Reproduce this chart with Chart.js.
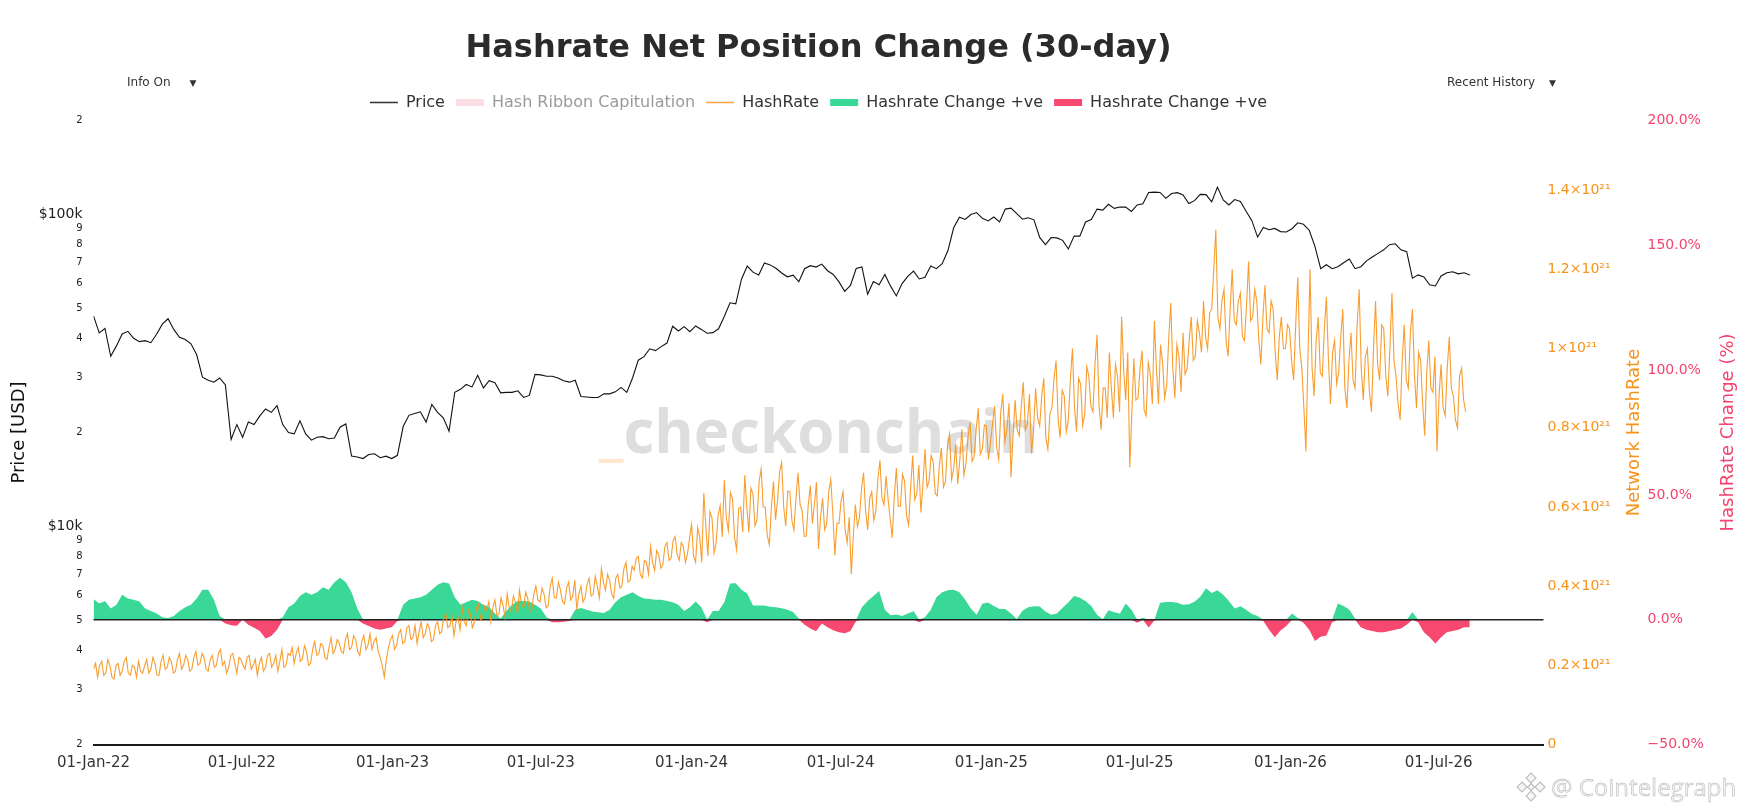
<!DOCTYPE html>
<html>
<head>
<meta charset="utf-8">
<title>Hashrate Net Position Change (30-day)</title>
<script src="https://cdn.jsdelivr.net/npm/chart.js@4.4.1/dist/chart.umd.min.js"></script>
<style>
  html, body { margin: 0; padding: 0; background: #fff; }
  #wrap { position: relative; width: 1745px; height: 812px; overflow: hidden; }
  #box { position: absolute; left: 0; top: 0; width: 1745px; height: 812px; }
  .menu { position: absolute; font-family: "DejaVu Sans", Verdana, sans-serif; font-size: 12px; color: #333; white-space: nowrap; }
  .menu .arrow { font-size: 9px; }
  #ct { position: absolute; left: 1515px; top: 770px; display: flex; align-items: center; white-space: nowrap; }
  #ct span { font-family: "Open Sans", sans-serif; font-size: 24px; color: #f2f2f2; -webkit-text-stroke: 0.45px #b0b0b0; margin-left: 4px; }
</style>
</head>
<body>
<div id="wrap">
  <div id="box"><canvas id="hashChart"></canvas></div>
  <div class="menu" style="left:127px; top:75px;">Info On<span class="arrow" style="margin-left:19px;">▼</span></div>
  <div class="menu" style="left:1447px; top:75px;">Recent History<span class="arrow" style="margin-left:14px;">▼</span></div>
  <div id="ct">
    <svg width="32" height="32" viewBox="0 0 32 32">
      <g fill="#f5f5f5" stroke="#bcbcbc" stroke-width="1.1">
        <polygon points="16,2 21,7 16,12 11,7"/>
        <polygon points="7,11 12,16 7,21 2,16"/>
        <polygon points="25,11 30,16 25,21 20,16"/>
        <polygon points="16,20 21,25 16,30 11,25"/>
        <polygon points="16,12.5 19.5,16 16,19.5 12.5,16"/>
      </g>
    </svg>
    <span>@ Cointelegraph</span>
  </div>
</div>
<script>
const FONT = '"DejaVu Sans", Verdana, sans-serif';

const startDate = "2022-01-01";
const axisEndDate = "2026-11-06";
const priceStepDays = 7;
const hashStepDays = 2.5;
const changeStepDays = 7;

const xTickDates = ["2022-01-01", "2022-07-01", "2023-01-01", "2023-07-01", "2024-01-01",
  "2024-07-01", "2025-01-01", "2025-07-01", "2026-01-01", "2026-07-01"];
const xTickLabels = ["01-Jan-22", "01-Jul-22", "01-Jan-23", "01-Jul-23", "01-Jan-24",
  "01-Jul-24", "01-Jan-25", "01-Jul-25", "01-Jan-26", "01-Jul-26"];

const priceTicks = [2000, 3000, 4000, 5000, 6000, 7000, 8000, 9000, 10000,
  20000, 30000, 40000, 50000, 60000, 70000, 80000, 90000, 100000, 200000];
const priceTickLabels = ["2", "3", "4", "5", "6", "7", "8", "9", "$10k",
  "2", "3", "4", "5", "6", "7", "8", "9", "$100k", "2"];
const hashTicks = [0, 0.2, 0.4, 0.6, 0.8, 1, 1.2, 1.4];
const hashTickLabels = ["0", "0.2×10²¹", "0.4×10²¹", "0.6×10²¹", "0.8×10²¹", "1×10²¹", "1.2×10²¹", "1.4×10²¹"];
const changeTicks = [-50, 0, 50, 100, 150, 200];
const changeTickLabels = ["−50.0%", "0.0%", "50.0%", "100.0%", "150.0%", "200.0%"];

// weekly BTC price, thousands of USD
const priceUsdK = [
  47.3, 41.7, 43.1, 35.1, 37.9, 41.4, 42.2, 40.1, 39.1, 39.4, 38.8, 41.3, 44.5, 46.3, 42.8, 40.4, 39.7, 38.5,
  35.5, 30.1, 29.4, 29.0, 29.9, 28.4, 19.0, 21.2, 19.3, 21.6, 21.2, 22.6, 23.8, 23.2, 24.4, 21.2, 20.0, 19.8,
  21.8, 19.8, 18.9, 19.3, 19.4, 19.1, 19.2, 20.8, 21.3, 16.8, 16.7, 16.5, 17.0, 17.1, 16.6, 16.8, 16.5,
  16.9, 20.9, 22.7, 23.0, 23.3, 21.6, 24.6, 23.2, 22.3, 20.2, 26.9, 27.5, 28.5, 28.0, 30.5, 27.8, 29.3, 28.9,
  26.8, 26.9, 26.9, 27.2, 25.9, 26.3, 30.7, 30.6, 30.3, 30.3, 29.9, 29.3, 29.0, 29.4, 26.1, 26.0, 25.9, 25.9,
  26.6, 26.6, 27.0, 27.9, 26.9, 29.9, 34.1, 35.0, 37.1, 36.6, 37.7, 38.7, 43.8, 42.3, 43.7, 42.1,
  43.9, 42.8, 41.6, 41.8, 43.0, 47.1, 52.1, 51.7, 62.0, 68.3, 65.3, 64.0, 69.9, 68.9, 67.2, 64.9, 63.1, 63.9,
  60.8, 67.0, 68.5, 67.8, 69.3, 66.0, 64.2, 60.8, 56.7, 59.2, 67.1, 67.9, 55.5, 60.9, 59.5, 64.2, 58.9, 54.8,
  60.0, 63.3, 65.8, 62.1, 62.9, 68.4, 67.0, 69.5, 76.6, 90.6, 98.0, 96.4, 99.9, 101.4, 97.2, 95.3,
  98.1, 94.6, 104.0, 104.7, 100.6, 96.5, 97.6, 96.1, 84.4, 80.0, 84.3, 84.1, 82.6, 77.5, 85.3, 85.2, 94.6, 96.3,
  104.0, 103.2, 107.8, 104.6, 105.6, 105.5, 102.2, 107.2, 108.2, 117.5, 117.9, 117.6, 112.6, 116.7, 117.4, 115.4,
  108.4, 110.7, 115.9, 115.7, 109.7, 122.3, 111.2, 107.2, 111.6, 110.1, 102.3, 95.5, 84.6, 90.8, 89.3, 90.2, 88.1, 87.8,
  90, 94, 93, 89, 79, 67, 69, 67, 68, 70, 72, 67, 68, 71, 73, 75, 77, 80, 80.5, 77, 76, 62.5, 64, 63,
  59.5, 59, 63.5, 65, 65.5, 64.5, 65, 64
];

// network hashrate every 2.5 days, x10^21 H/s
const hashRateZH = [
  0.19, 0.205, 0.17, 0.2, 0.21, 0.175, 0.18, 0.215, 0.20, 0.17, 0.165, 0.2, 0.205, 0.175, 0.185, 0.21, 0.22, 0.18, 0.175, 0.2, 0.195, 0.17, 0.21, 0.185,
  0.18, 0.2, 0.215, 0.18, 0.19, 0.22, 0.205, 0.175, 0.175, 0.21, 0.225, 0.19, 0.195, 0.22, 0.21, 0.18, 0.185, 0.215, 0.23, 0.19, 0.2, 0.225, 0.215, 0.185,
  0.19, 0.22, 0.235, 0.2, 0.205, 0.23, 0.22, 0.19, 0.185, 0.215, 0.225, 0.195, 0.2, 0.23, 0.24, 0.2, 0.21, 0.18, 0.195, 0.225, 0.23, 0.205, 0.18, 0.22,
  0.215, 0.2, 0.19, 0.22, 0.225, 0.19, 0.2, 0.215, 0.175, 0.205, 0.22, 0.185, 0.195, 0.225, 0.23, 0.195, 0.205, 0.225, 0.185, 0.21, 0.24, 0.195, 0.2, 0.23,
  0.225, 0.245, 0.205, 0.23, 0.245, 0.21, 0.215, 0.25, 0.235, 0.2, 0.205, 0.24, 0.26, 0.225, 0.23, 0.255, 0.25, 0.22, 0.215, 0.245, 0.27, 0.23, 0.24, 0.265,
  0.255, 0.235, 0.23, 0.265, 0.28, 0.24, 0.245, 0.275, 0.265, 0.235, 0.225, 0.26, 0.275, 0.24, 0.25, 0.28, 0.24, 0.26, 0.27, 0.235, 0.22, 0.2, 0.17, 0.215,
  0.245, 0.265, 0.275, 0.24, 0.25, 0.28, 0.29, 0.255, 0.26, 0.295, 0.30, 0.265, 0.27, 0.3, 0.255, 0.285, 0.31, 0.27, 0.28, 0.305, 0.295, 0.26, 0.265, 0.3,
  0.31, 0.28, 0.285, 0.32, 0.33, 0.295, 0.30, 0.325, 0.275, 0.31, 0.32, 0.29, 0.345, 0.31, 0.30, 0.34, 0.33, 0.295, 0.31, 0.345, 0.355, 0.315, 0.32, 0.35,
  0.34, 0.36, 0.31, 0.345, 0.365, 0.325, 0.33, 0.37, 0.35, 0.32, 0.38, 0.345, 0.335, 0.375, 0.36, 0.33, 0.39, 0.355, 0.345, 0.385, 0.37, 0.335, 0.34, 0.38,
  0.40, 0.365, 0.36, 0.395, 0.38, 0.345, 0.35, 0.4, 0.42, 0.37, 0.37, 0.41, 0.39, 0.36, 0.355, 0.395, 0.41, 0.365, 0.375, 0.415, 0.34, 0.38, 0.40, 0.36,
  0.37, 0.405, 0.42, 0.375, 0.38, 0.425, 0.40, 0.37, 0.445, 0.41, 0.39, 0.43, 0.415, 0.38, 0.37, 0.42, 0.43, 0.395, 0.40, 0.445, 0.46, 0.41, 0.415, 0.45,
  0.44, 0.47, 0.475, 0.43, 0.42, 0.465, 0.46, 0.43, 0.50, 0.46, 0.44, 0.49, 0.48, 0.445, 0.455, 0.5, 0.51, 0.465, 0.47, 0.515, 0.525, 0.48, 0.465, 0.51, 0.50, 0.46, 0.48, 0.52,
  0.556, 0.476, 0.46, 0.548, 0.524, 0.46, 0.636, 0.548, 0.476, 0.588, 0.572, 0.484, 0.508, 0.58, 0.604, 0.524, 0.668, 0.572, 0.54, 0.636, 0.62, 0.524, 0.492, 0.596,
  0.60, 0.536, 0.68, 0.60, 0.536, 0.648, 0.632, 0.552, 0.568, 0.664, 0.696, 0.60, 0.60, 0.528, 0.504, 0.60, 0.664, 0.568, 0.616, 0.688, 0.712, 0.60, 0.552, 0.64,
  0.638, 0.566, 0.542, 0.622, 0.686, 0.606, 0.59, 0.526, 0.526, 0.606, 0.654, 0.558, 0.606, 0.662, 0.494, 0.574, 0.622, 0.542, 0.558, 0.638, 0.67, 0.582, 0.478, 0.558,
  0.558, 0.614, 0.638, 0.542, 0.51, 0.574, 0.43, 0.526, 0.606, 0.55, 0.574, 0.646, 0.686, 0.59, 0.542, 0.622, 0.638, 0.566, 0.59, 0.67, 0.718, 0.622, 0.606, 0.678,
  0.618, 0.57, 0.522, 0.626, 0.698, 0.602, 0.602, 0.682, 0.666, 0.578, 0.554, 0.65, 0.73, 0.618, 0.634, 0.706, 0.586, 0.658, 0.746, 0.65, 0.666, 0.73, 0.714, 0.634,
  0.628, 0.704, 0.749, 0.65, 0.663, 0.755, 0.784, 0.669, 0.697, 0.758, 0.658, 0.719, 0.796, 0.68, 0.709, 0.778, 0.814, 0.715, 0.727, 0.796, 0.849, 0.733, 0.746, 0.807, 0.804, 0.72,
  0.765, 0.81, 0.855, 0.75, 0.72, 0.84, 0.885, 0.765, 0.795, 0.862, 0.675, 0.78, 0.87, 0.795, 0.78, 0.855, 0.915, 0.795, 0.81, 0.885, 0.735, 0.795, 0.90, 0.825,
  0.805, 0.88, 0.925, 0.775, 0.745, 0.835, 0.85, 0.925, 0.97, 0.82, 0.775, 0.895, 0.88, 0.79, 0.82, 0.925, 1.0, 0.85, 0.79, 0.925, 0.91, 0.805, 0.835, 0.955,
  0.93, 0.855, 0.84, 0.96, 1.035, 0.855, 0.795, 0.90, 0.90, 0.825, 0.99, 0.90, 0.825, 0.96, 0.93, 0.84, 1.08, 0.945, 0.87, 0.99, 0.70, 0.84, 0.975, 0.87,
  0.875, 0.95, 0.995, 0.845, 0.83, 0.965, 0.935, 0.86, 1.07, 0.95, 0.86, 1.01, 0.965, 0.875, 0.905, 1.025, 1.115, 0.95, 0.875, 1.01, 0.98, 0.89, 1.04, 0.935,
  0.95, 1.02, 1.08, 0.97, 0.98, 1.07, 1.04, 0.99, 1.12, 1.03, 1.00, 1.09, 1.10, 1.2, 1.30, 1.08, 1.05, 1.12, 1.15, 1.02, 0.98, 1.1, 1.20, 1.07,
  1.06, 1.12, 1.14, 1.03, 1.02, 1.11, 1.22, 1.07, 1.08, 1.15, 1.12, 1.02, 0.96, 1.08, 1.16, 1.05, 1.04, 1.12, 1.10, 0.99, 0.92, 1.03, 1.08, 1.0, 1.00, 1.06,
  1.05, 0.97, 0.92, 1.06, 1.18, 1.0, 0.95, 0.85, 0.74, 0.98, 1.20, 0.95, 0.88, 1.02, 1.08, 0.94, 0.93, 1.05, 1.13, 0.97, 0.86, 0.99, 1.02, 0.91,
  0.94, 1.03, 1.10, 0.9, 0.85, 0.97, 1.04, 0.92, 0.90, 1.06, 1.15, 0.95, 0.87, 0.98, 1.00, 0.89, 0.84, 1.0, 1.12, 0.96, 0.92, 1.06, 1.05, 0.93,
  0.88, 1.0, 1.14, 0.97, 0.93, 0.86, 0.82, 0.97, 1.06, 0.92, 0.90, 1.04, 1.10, 0.93, 0.85, 0.99, 0.97, 0.86, 0.78, 0.94, 1.02, 0.9, 0.89, 0.98,
  0.74, 0.88, 0.96, 0.85, 0.83, 0.95, 1.03, 0.9, 0.88, 0.82, 0.80, 0.93, 0.95, 0.87, 0.84
];

// 30-day hashrate change, weekly, %
const hashChangePct = [
  8.3, 6.5, 7.5, 4.5, 6, 10, 8.5, 8, 7.3, 4.5,
  3.5, 2.5, 1, 0.7, 1.5, 3.5, 5, 6, 8.5, 12,
  12, 8, 1.5, -1.5, -2.2, -2.4, 0.3, -2, -3.2, -4.5,
  -7.5, -6.5, -4, 1, 5, 6.5, 9.5, 11, 10, 11,
  13, 12, 15, 16.8, 15, 11, 4.5, -1.5, -2.5, -3.5,
  -4, -3.5, -3, -0.5, 6, 8, 8.5, 9, 10, 12,
  14, 15, 14.5, 9, 6, 7, 8, 7.5, 6, 5,
  2.5, 0.5, 3.5, 6, 7.5, 7.5, 7.3, 6, 4.5, 1,
  -1, -1, -0.8, -0.5, 4, 4.7, 4, 3.3, 3, 2.7,
  4, 7, 9, 10, 11, 9.5, 8.5, 8.3, 8, 8,
  7.5, 7, 6, 3.5, 5, 7.3, 5, -1, 3.5, 3.5,
  7, 14.5, 14.6, 12, 10.5, 5.7, 5.7, 5.7, 5.2, 5,
  4.6, 4, 3.1, 0.5, -2, -3.5, -4.6, -1.5, -3, -4.2,
  -5, -5.4, -4.5, -0.5, 5, 7.5, 9.5, 11.5, 4, 1.8,
  2.1, 1.5, 2.5, 3.4, -1, 1, 4, 9, 11, 11.8,
  12, 11, 8, 4.5, 2, 6.4, 6.9, 5.5, 4.3, 4.3,
  2.5, 0.3, 3.6, 5, 5.4, 5.3, 3.3, 2, 2.5, 4.8,
  7, 9.5, 8.8, 7.5, 5.5, 2, 0.2, 3.8, 3, 2.5,
  6.5, 4, -1.2, 0.8, -3.1, -0.3, 6.8, 7.1, 7.1, 6.8,
  6, 6.2, 7.2, 9.2, 12.6, 10.7, 11.8, 10, 7.5, 4.5,
  5.4, 4, 2.3, 1.5, -0.5, -4, -7, -4.3, -2.5, 2.5,
  0.7, -1.2, -4, -8.5, -6.8, -6.3, -1, 6.5, 5.5, 4,
  0.5, -3, -4, -4.5, -5, -5, -4.5, -4, -3.5, -2,
  3, -1, -5, -7, -9.5, -7, -5, -4.5, -4, -3,
  -3
];

function dayOf(dateStr) {
  return (Date.parse(dateStr) - Date.parse(startDate)) / 86400000;
}

const xTickDays = xTickDates.map(dayOf);

const priceData = priceUsdK.map((v, i) => ({ x: i * priceStepDays, y: v * 1000 }));
const hashData = hashRateZH.map((v, i) => ({ x: i * hashStepDays, y: v }));
const greenData = hashChangePct.map((v, i) => ({ x: i * changeStepDays, y: Math.max(v, 0) }));
const redData = hashChangePct.map((v, i) => ({ x: i * changeStepDays, y: Math.min(v, 0) }));

function drawVerticalText(ctx, text, x, y, color) {
  ctx.save();
  ctx.translate(x, y);
  ctx.rotate(-Math.PI / 2);
  ctx.font = "18px " + FONT;
  ctx.fillStyle = color;
  ctx.textAlign = "center";
  ctx.textBaseline = "middle";
  ctx.fillText(text, 0, 0);
  ctx.restore();
}

const decorations = {
  id: "decorations",
  beforeDatasetsDraw(chart) {
    const { ctx, chartArea } = chart;
    const cx = (chartArea.left + chartArea.right) / 2;
    const y = chartArea.top + 332;
    ctx.save();
    ctx.font = 'bold 60px "Open Sans", sans-serif';
    ctx.textBaseline = "alphabetic";
    ctx.textAlign = "left";
    const w1 = ctx.measureText("_").width;
    const w2 = ctx.measureText("checkonchain").width;
    const x0 = cx - (w1 + w2) / 2;
    ctx.fillStyle = "rgba(247,147,26,0.22)";
    ctx.fillText("_", x0, y);
    ctx.fillStyle = "#dedede";
    ctx.fillText("checkonchain", x0 + w1, y);
    ctx.restore();
  },
  afterDatasetDraw(chart, args) {
    // zero line of the change axis, over the areas but under the lines
    if (args.index !== 3) return;
    const { ctx, chartArea } = chart;
    const y0 = chart.scales.yChg.getPixelForValue(0);
    ctx.save();
    ctx.strokeStyle = "#222";
    ctx.lineWidth = 1.5;
    ctx.beginPath();
    ctx.moveTo(chartArea.left, y0);
    ctx.lineTo(chartArea.right, y0);
    ctx.stroke();
    ctx.restore();
  },
  afterDraw(chart) {
    const { ctx, chartArea } = chart;
    const midY = (chartArea.top + chartArea.bottom) / 2;
    drawVerticalText(ctx, "Network HashRate", chart.scales.yHash.left + 91, midY, "#F7931A");
    drawVerticalText(ctx, "HashRate Change (%)", chart.scales.yChg.left + 85, midY, "rgb(244,67,110)");
  },
};

const ctx = document.getElementById("hashChart").getContext("2d");

new Chart(ctx, {
  type: "line",
  data: {
    datasets: [
      {
        label: "Price",
        data: priceData,
        yAxisID: "yPrice",
        borderColor: "#111",
        borderWidth: 1.1,
        legendStyle: "line",
        legendColor: "#333",
        legendText: "#333",
      },
      {
        label: "Hash Ribbon Capitulation",
        data: [],
        yAxisID: "yPrice",
        hidden: true,
        backgroundColor: "rgba(248,170,190,0.4)",
        legendStyle: "rect",
        legendColor: "#fbdde4",
        legendText: "#9a9a9a",
      },
      {
        label: "HashRate",
        data: hashData,
        yAxisID: "yHash",
        borderColor: "rgba(247,147,26,0.9)",
        borderWidth: 1.1,
        legendStyle: "line",
        legendColor: "#F7A540",
        legendText: "#333",
      },
      {
        label: "Hashrate Change +ve",
        data: greenData,
        yAxisID: "yChg",
        fill: "origin",
        backgroundColor: "rgb(58,216,150)",
        borderWidth: 0,
        legendStyle: "rect",
        legendColor: "rgb(58,216,150)",
        legendText: "#333",
      },
      {
        label: "Hashrate Change +ve",
        data: redData,
        yAxisID: "yChg",
        fill: "origin",
        backgroundColor: "rgb(247,72,112)",
        borderWidth: 0,
        legendStyle: "rect",
        legendColor: "rgb(247,72,112)",
        legendText: "#333",
      },
    ],
  },
  options: {
    responsive: true,
    maintainAspectRatio: false,
    animation: false,
    events: [],
    layout: { padding: { left: 0, right: 0, top: 0, bottom: 0 } },
    elements: {
      point: { radius: 0 },
      line: { tension: 0 },
    },
    scales: {
      x: {
        type: "linear",
        min: 0,
        max: dayOf(axisEndDate),
        afterBuildTicks: (s) => { s.ticks = xTickDays.map((v) => ({ value: v })); },
        afterFit: (s) => { s.height = 67.5; },
        grid: { display: false, drawTicks: false },
        border: { display: true, color: "#1a1a1a", width: 2 },
        ticks: {
          autoSkip: false,
          maxRotation: 0,
          padding: 10,
          color: "#333",
          font: { family: FONT, size: 15 },
          callback: (v, i) => xTickLabels[i],
        },
      },
      yPrice: {
        type: "logarithmic",
        position: "left",
        min: 2000,
        max: 200000,
        afterBuildTicks: (s) => { s.ticks = priceTicks.map((v) => ({ value: v })); },
        afterFit: (s) => { s.width = 93.5; },
        grid: { display: false, drawTicks: false },
        border: { display: false },
        title: {
          display: true,
          text: "Price [USD]",
          color: "#111",
          font: { family: FONT, size: 18 },
          padding: { top: 9, bottom: 0 },
        },
        ticks: {
          autoSkip: false,
          padding: 11,
          color: "#222",
          font: (c) => ({ family: FONT, size: c.tick && (c.tick.value === 10000 || c.tick.value === 100000) ? 14 : 10 }),
          callback: (v, i) => priceTickLabels[i],
        },
      },
      yHash: {
        type: "linear",
        position: "right",
        weight: 0,
        min: 0,
        max: 1.576,
        afterBuildTicks: (s) => { s.ticks = hashTicks.map((v) => ({ value: v })); },
        afterFit: (s) => { s.width = 100; },
        grid: { display: false, drawTicks: false },
        border: { display: false },
        ticks: {
          autoSkip: false,
          padding: 4,
          color: "#F7931A",
          font: { family: FONT, size: 14 },
          callback: (v, i) => hashTickLabels[i],
        },
      },
      yChg: {
        type: "linear",
        position: "right",
        weight: 1,
        min: -50,
        max: 200,
        afterBuildTicks: (s) => { s.ticks = changeTicks.map((v) => ({ value: v })); },
        afterFit: (s) => { s.width = 101.5; },
        grid: { display: false, drawTicks: false },
        border: { display: false },
        ticks: {
          autoSkip: false,
          padding: 4,
          color: "rgb(244,67,110)",
          font: { family: FONT, size: 14 },
          callback: (v, i) => changeTickLabels[i],
        },
      },
    },
    plugins: {
      tooltip: { enabled: false },
      title: {
        display: true,
        fullSize: false,
        text: "Hashrate Net Position Change (30-day)",
        color: "#2b2b2b",
        font: { family: FONT, size: 32, weight: "bold" },
        padding: { top: 29.8, bottom: 15.3 },
      },
      legend: {
        display: true,
        position: "top",
        fullSize: false,
        onClick: () => {},
        labels: {
          usePointStyle: true,
          pointStyleWidth: 28,
          boxHeight: 7,
          padding: 11,
          color: "#333",
          font: { family: FONT, size: 16 },
          generateLabels: (chart) =>
            chart.data.datasets.map((ds, i) => ({
              text: ds.label,
              datasetIndex: i,
              hidden: false,
              pointStyle: ds.legendStyle,
              fillStyle: ds.legendColor,
              strokeStyle: ds.legendColor,
              lineWidth: ds.legendStyle === "line" ? 1.6 : 0,
              fontColor: ds.legendText,
            })),
        },
      },
    },
  },
  plugins: [decorations],
});
</script>
</body>
</html>
